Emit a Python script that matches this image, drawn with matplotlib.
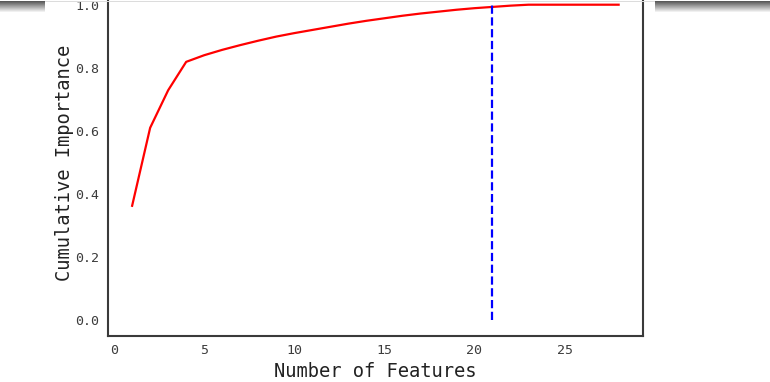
import numpy as np
import matplotlib
matplotlib.use("Agg")
import matplotlib.pyplot as plt

# cumulative feature importance
n_features = np.arange(1, 29)
cumulative = [0.363, 0.610, 0.729, 0.819, 0.840, 0.857, 0.872, 0.886,
              0.899, 0.910, 0.920, 0.930, 0.940, 0.949, 0.957, 0.965,
              0.972, 0.978, 0.984, 0.989, 0.993, 0.997, 1.0, 1.0,
              1.0, 1.0, 1.0, 1.0]
cutoff = 21

plt.rcParams['font.family'] = ['DejaVu Sans Mono']

W, H = 770, 382
fig = plt.figure(figsize=(W / 100, H / 100), dpi=100)

# grey shading of the screenshot's top edge
shade = np.linspace(0.35, 1.0, 12).reshape(-1, 1)
for x0, x1 in [(0, 45), (655, W)]:
    sa = fig.add_axes([x0 / W, 1 - 13 / H, (x1 - x0) / W, 12 / H])
    sa.imshow(shade, cmap='gray', vmin=0, vmax=1, aspect='auto')
    sa.axis('off')
border = fig.add_axes([45 / W, 1 - 2 / H, 610 / W, 1 / H])
border.axis('off')
border.add_patch(plt.Rectangle((0, 0), 1, 1, color='#dcdcdc', transform=border.transAxes))

# top of the axes runs off the picture, as in the reference screenshot
ax = fig.add_axes([0.140, 0.120, 0.695, 0.909])
ax.set_zorder(-1)

ax.plot(n_features, cumulative, 'r-', linewidth=1.6)
ax.vlines(x=cutoff, ymin=0, ymax=1, linestyles='--', colors='blue', linewidth=1.6)

ax.set_xticks([0, 5, 10, 15, 20, 25])
ax.set_yticks([0.0, 0.2, 0.4, 0.6, 0.8, 1.0])
ax.tick_params(length=0, labelsize=9.5, colors='#3c3c3c', pad=6)
for side in ['left', 'right', 'bottom', 'top']:
    ax.spines[side].set_color('#3a3a3a')
    ax.spines[side].set_linewidth(1.5)

ax.set_xlabel('Number of Features', fontsize=13.5, color='#222222', labelpad=3)
ax.set_ylabel('Cumulative Importance', fontsize=13.5, color='#222222', labelpad=1)

fig.savefig('out.png', dpi=100)
